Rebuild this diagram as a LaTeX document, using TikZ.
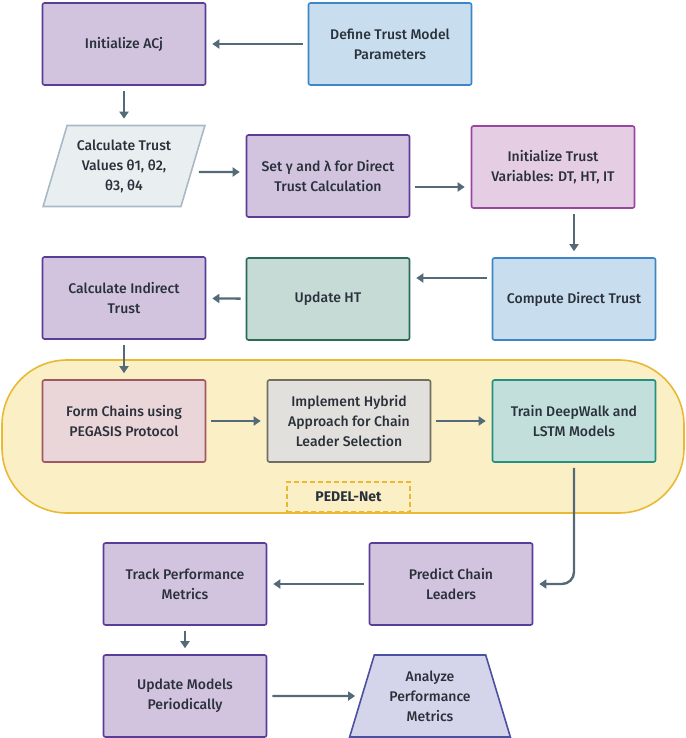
\documentclass[tikz,border=0pt]{standalone}
\usepackage{fontspec}
\setmainfont{Fira Sans}[UprightFont={* Medium}, BoldFont={* Bold}]
\usetikzlibrary{shapes.geometric,arrows.meta}
\definecolor{purF}{HTML}{D2C4DF}\definecolor{purD}{HTML}{5A3D96}
\definecolor{bluF}{HTML}{C8DDED}\definecolor{bluD}{HTML}{3C86C8}
\definecolor{parF}{HTML}{E9EEF1}\definecolor{parD}{HTML}{A9BAC6}
\definecolor{pnkF}{HTML}{E5CDE4}\definecolor{pnkD}{HTML}{9A45A0}
\definecolor{grnF}{HTML}{C6DAD6}\definecolor{grnD}{HTML}{2A6B58}
\definecolor{rosF}{HTML}{EAD6D8}\definecolor{rosD}{HTML}{A05861}
\definecolor{gryF}{HTML}{E2E0DC}\definecolor{gryD}{HTML}{707060}
\definecolor{tealF}{HTML}{C2DFDB}\definecolor{tealD}{HTML}{23917F}
\definecolor{yelF}{HTML}{FBEFC6}\definecolor{yelD}{HTML}{E9B935}
\definecolor{trapF}{HTML}{D4D4EA}\definecolor{trapD}{HTML}{4B51A0}
\definecolor{arrC}{HTML}{546A78}
\definecolor{txt}{HTML}{2A313B}
\begin{document}
\begin{tikzpicture}[x=1pt,y=-1pt,
  box/.style={draw, line width=1.6pt, rounded corners=2pt, minimum width=163pt, minimum height=82pt,
    align=center, text=txt, font=\fontsize{14}{20}\selectfont, inner sep=2pt},
  purp/.style={box, fill=purF, draw=purD},
  bluebox/.style={box, fill=bluF, draw=bluD},
  pinkbox/.style={box, fill=pnkF, draw=pnkD},
  greenbox/.style={box, fill=grnF, draw=grnD},
  rosebox/.style={box, fill=rosF, draw=rosD},
  greybox/.style={box, fill=gryF, draw=gryD},
  tealbox/.style={box, fill=tealF, draw=tealD},
  parabox/.style={box, rounded corners=0pt, trapezium, trapezium left angle=70, trapezium right angle=110,
    trapezium stretches=true, minimum width=162pt, minimum height=81pt, fill=parF, draw=parD},
  trapbox/.style={box, rounded corners=0pt, trapezium, trapezium left angle=71, trapezium right angle=71,
    trapezium stretches=true, minimum width=161pt, minimum height=82pt, fill=trapF, draw=trapD},
  region/.style={draw=yelD, fill=yelF, line width=1.6pt, rounded corners=65pt, minimum width=682pt, minimum height=153pt},
  dashbox/.style={draw=yelD, dashed, dash pattern=on 5pt off 3pt, line width=1.4pt, minimum width=123pt, minimum height=30pt,
    text=txt, font=\fontsize{14}{20}\selectfont\bfseries},
  arr/.style={draw=arrC, line width=2.4pt, -{Triangle[length=7pt,width=9pt]}, shorten <=5pt, shorten >=6pt}
]
\useasboundingbox (0,0) rectangle (685,738);
\node[region] (pedel) at (343,436.5) {};
\node[purp] (init) at (124,44) {Initialize ACj};
\node[bluebox] (def) at (390,44) {Define Trust Model\\Parameters};
\node[parabox] (calc) at (124,166) {Calculate Trust\\Values θ1, θ2,\\θ3, θ4};
\node[purp] (setg) at (328,176) {Set γ and λ for Direct\\Trust Calculation};
\node[pinkbox] (initt) at (553,167) {Initialize Trust\\Variables: DT, HT, IT};
\node[bluebox] (comp) at (574,299) {Compute Direct Trust};
\node[greenbox] (upd) at (328,299) {Update HT};
\node[purp] (calci) at (124,298) {Calculate Indirect\\Trust};
\node[rosebox] (form) at (124,421) {Form Chains using\\PEGASIS Protocol};
\node[greybox] (impl) at (349,421) {Implement Hybrid\\Approach for Chain\\Leader Selection};
\node[tealbox] (train) at (574,421) {Train DeepWalk and\\LSTM Models};
\node[dashbox] (pnlabel) at (348.5,497) {PEDEL-Net};
\node[purp] (pred) at (451,584) {Predict Chain\\Leaders};
\node[purp] (track) at (185,584) {Track Performance\\Metrics};
\node[purp] (updm) at (185,696) {Update Models\\Periodically};
\node[trapbox] (anal) at (430,696) {Analyze\\Performance\\Metrics};

\draw[arr] (def) -- (init);
\draw[arr] (init) -- (calc);
\draw[arr] ([yshift=-6pt]calc.east) -- ([yshift=4pt]setg.west);
\draw[arr] ([yshift=-11pt]setg.east) -- ([yshift=-20pt]initt.west);
\draw[arr] (initt.south -| comp.north) -- (comp.north);
\draw[arr] ([yshift=21pt]comp.west) -- ([yshift=21pt]upd.east);
\draw[arr] (upd) -- (calci);
\draw[arr] (calci) -- (form);
\draw[arr] (form) -- (impl);
\draw[arr] (impl) -- (train);
\draw[arr, rounded corners=12pt] (train.south) |- (pred.east);
\draw[arr] (pred) -- (track);
\draw[arr] (track) -- (updm);
\draw[arr] (updm) -- (anal);
\end{tikzpicture}
\end{document}
